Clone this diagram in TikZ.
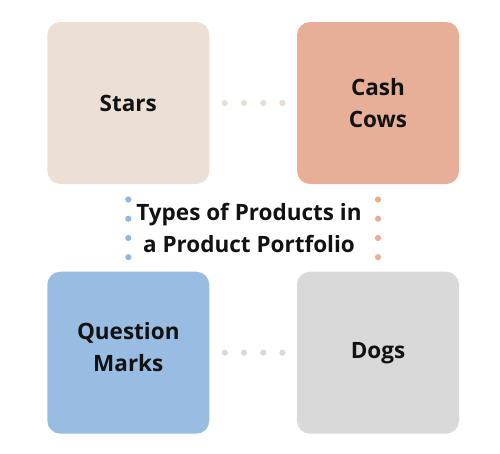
\documentclass[tikz,border=0pt]{standalone}
\usepackage{fontspec}
\setmainfont{Open Sans}
\usetikzlibrary{calc}
\definecolor{starsc}{HTML}{ECDFD5}
\definecolor{cashc}{HTML}{E8AF98}
\definecolor{qmc}{HTML}{98BCE2}
\definecolor{dogsc}{HTML}{D9D9D9}
\definecolor{topdot}{HTML}{EADDD3}
\definecolor{leftdot}{HTML}{8FB8E2}
\definecolor{rightdot}{HTML}{E8AD95}
\definecolor{botdot}{HTML}{D9D9D9}
\tikzset{
  card/.style={rounded corners=13pt, minimum width=162pt, minimum height=162pt, inner sep=0pt, align=center, text=black!93, font=\fontsize{22.5}{31.5}\selectfont\bfseries},
  dotline/.style={line width=6.2pt, line cap=round, dash pattern=on 0pt off 19.23pt},
}
\begin{document}
\begin{tikzpicture}[x=1pt,y=-1pt]
\useasboundingbox (0,0) rectangle (500,453);
\node[card, fill=starsc] (stars) at (128.3,103) {Stars};
\node[card, fill=cashc] (cash) at (378,103) {Cash\\Cows};
\node[card, fill=qmc, text depth=12pt] (qm) at (128.3,352.7) {Question\\Marks};
\node[card, fill=dogsc] (dogs) at (378,352.7) {Dogs};
\node[align=center, inner sep=0pt, text=black!93, font=\fontsize{22.5}{32}\selectfont\bfseries] (title) at (249,228) {Types of Products in\\a Product Portfolio};
\draw[dotline, topdot] ($(stars.east)+(15.3,0)$) -- ($(cash.west)+(-14.3,0)$);
\draw[dotline, botdot] ($(qm.east)+(15.3,0)$) -- ($(dogs.west)+(-14.3,0)$);
\draw[dotline, leftdot] ($(stars.south)+(0,15.3)$) -- ($(qm.north)+(0,-14.3)$);
\draw[dotline, rightdot] ($(cash.south)+(0,15.3)$) -- ($(dogs.north)+(0,-14.3)$);
\end{tikzpicture}
\end{document}
